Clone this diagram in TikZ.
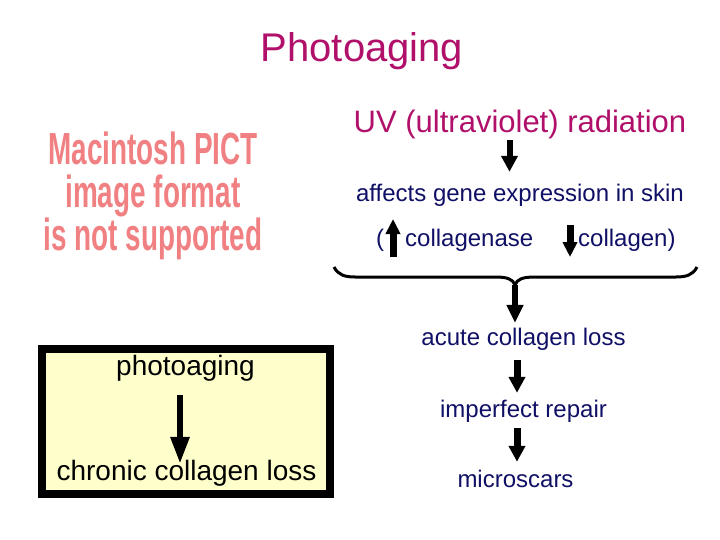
\documentclass[tikz,border=0pt]{standalone}
\usepackage{fontspec}
\setmainfont{Liberation Sans}
\usetikzlibrary{arrows.meta}
\definecolor{titlered}{RGB}{176,16,106}
\definecolor{navytext}{RGB}{16,16,102}
\definecolor{pictpink}{RGB}{240,128,130}
\definecolor{boxyellow}{RGB}{255,255,204}

\begin{document}
\begin{tikzpicture}[x=1pt, y=-1pt,
    fatarrow/.style={line width=6pt, -{Triangle[width=16pt,length=16pt]}},
    flowtext/.style={text=navytext, font=\fontsize{24}{28}\selectfont, inner sep=0pt, text height=17pt, text depth=5pt, anchor=base},
    boxtext/.style={font=\fontsize{28}{32}\selectfont, inner sep=0pt, text height=20pt, text depth=6pt, anchor=base}]
    \useasboundingbox[fill=white] (0,0) rectangle (720,540);

    % Title
    \node (title) [text=titlered, font=\fontsize{40}{44}\selectfont, anchor=base] at (362,62) {Photoaging};

    % Placeholder left by the missing picture
    \node (pict) [text=pictpink, font=\bfseries\fontsize{45}{43}\selectfont, xscale=0.62, align=center] at (153,196) {Macintosh PICT\\image format\\is not supported};

    % Right-hand chain
    \node (uv) [text=titlered, font=\fontsize{31}{36}\selectfont, inner sep=0pt, anchor=base] at (520,133) {UV (ultraviolet) radiation};
    \node (gene) [flowtext] at (520,202) {affects gene expression in skin};
    \node (paren) [flowtext] at (380,247) {(};
    \node (enase) [flowtext, anchor=base west] at (405,247) {collagenase};
    \node (gen) [flowtext, anchor=base west] at (578,247) {collagen)};
    \node (acute) [flowtext] at (523.5,345) {acute collagen loss};
    \node (repair) [flowtext] at (523.5,417) {imperfect repair};
    \node (scars) [flowtext] at (515.5,487) {microscars};

    % Brace under the gene line
    \draw[line width=3pt] (334,267) .. controls (338,275) and (345,277) .. (355,277) -- (495,277)
        .. controls (507,277) and (513,279) .. (515,285)
        .. controls (517,279) and (523,277) .. (535,277) -- (676,277)
        .. controls (686,277) and (693,275) .. (697,267);
    \coordinate (cusp) at (515,285);

    % Arrows of the chain
    \draw[fatarrow, shorten >=13pt] ([xshift=-10.5pt]uv.south) -- ([xshift=-10.5pt]gene.north);
    \draw[fatarrow, line width=7pt, -{Triangle[width=14pt,length=15pt]}] ([shift={(-12,10)}]enase.base west) -- ([shift={(-12,-28)}]enase.base west);
    \draw[fatarrow, line width=7pt, -{Triangle[width=14pt,length=15pt]}] ([shift={(-8,-22)}]gen.base west) -- ([shift={(-8,10)}]gen.base west);
    \draw[fatarrow, -{Triangle[width=16pt,length=18pt]}, shorten >=5pt] (cusp) -- (cusp |- acute.north);
    \draw[fatarrow, line width=7pt, shorten <=10pt, shorten >=7pt] ([xshift=-6.5pt]acute.south) -- ([xshift=-6.5pt]repair.north);
    \draw[fatarrow, line width=7pt, shorten <=6pt, shorten >=8pt] ([xshift=-6.5pt]repair.south) -- ([xshift=-6.5pt]repair.south |- scars.north);

    % Yellow box
    \node (box) [draw, line width=7.5pt, fill=boxyellow, minimum width=288pt, minimum height=145pt, inner sep=0pt] at (186,421.5) {};
    \node (photo) [boxtext] at (185.5,375) {photoaging};
    \node (chronic) [boxtext] at (186.5,480) {chronic collagen loss};
    \draw[fatarrow, -{Triangle[width=18pt,length=27pt]}, shorten <=14pt, shorten >=-4pt] ([xshift=-5.5pt]photo.south) -- ([xshift=-6.5pt]chronic.north);
\end{tikzpicture}
\end{document}
